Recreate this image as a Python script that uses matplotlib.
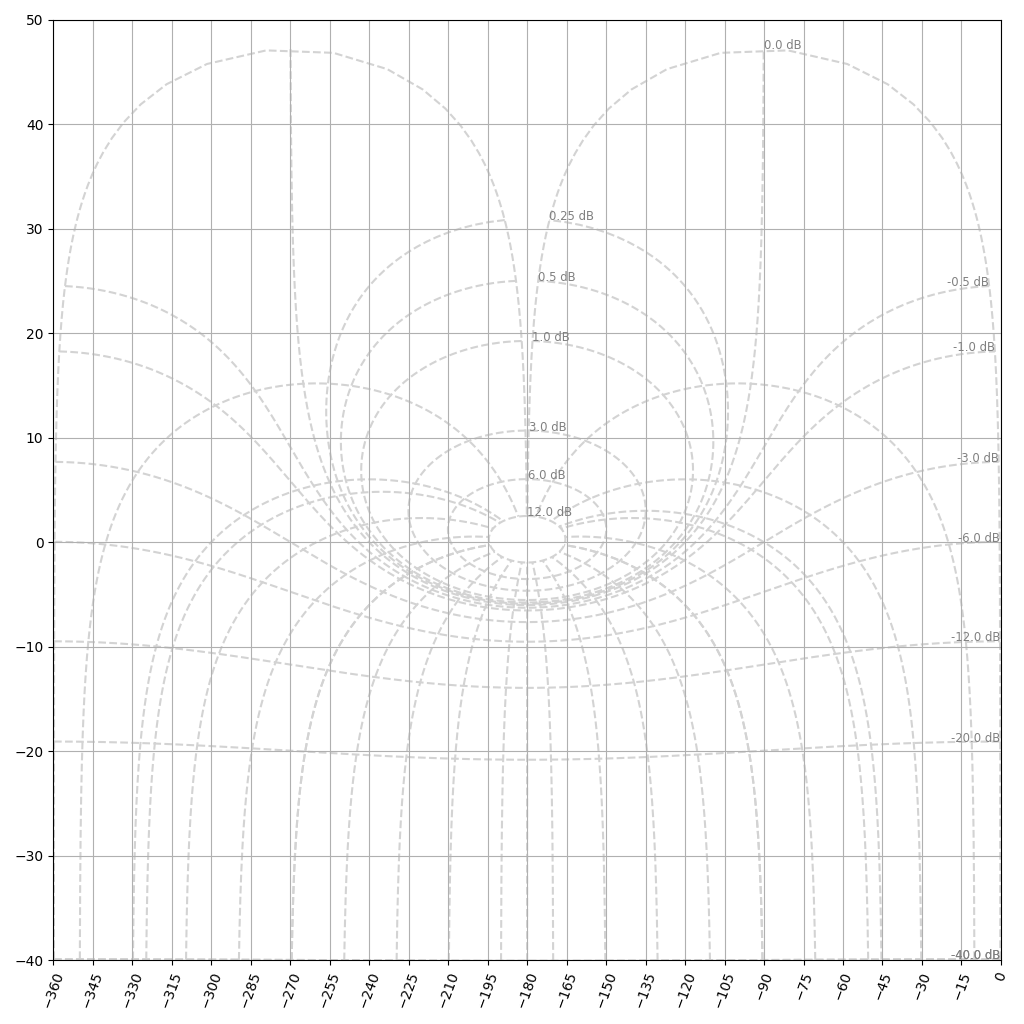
import numpy as np
import matplotlib
matplotlib.use("Agg")
import matplotlib.pyplot as plt

# closed-loop magnitudes (dB) of the M-contours
cl_mags = np.array([-40.0, -40.0, -20.0, -12.0, -6.0, -3.0, -1.0, -0.5,
                    0.0, 0.25, 0.5, 1.0, 3.0, 6.0, 12.0])
# closed-loop phases (deg) of the N-contours
key_cl_phases = np.array([-0.25, -45.0, -90.0, -180.0, -270.0, -325.0, -359.75])
other_cl_phases = np.array([-10.0, -30.0, -50.0, -70.0, -90.0, -110.0, -130.0,
                            -150.0, -170.0, -190.0, -210.0, -230.0, -250.0,
                            -270.0, -290.0, -310.0, -330.0, -350.0])
cl_phases = np.concatenate((key_cl_phases, other_cl_phases))

xtick_vals = np.arange(-360, 1, 15)


def closed_loop_contours(gcl_mags, gcl_phases):
    gcl = gcl_mags * np.exp(1.j * gcl_phases)
    return gcl / (1.0 - gcl)


def m_circles(mags, phase_min, phase_max):
    phases = np.radians(np.linspace(phase_min, phase_max, 2000))
    g_mags, g_phases = np.meshgrid(10.0 ** (mags / 20.0), phases)
    return closed_loop_contours(g_mags, g_phases)


def n_circles(phases, mag_min, mag_max):
    mags = np.linspace(10 ** (mag_min / 20.0), 10 ** (mag_max / 20.0), 2000)
    g_phases, g_mags = np.meshgrid(np.radians(phases), mags)
    return closed_loop_contours(g_mags, g_phases)


fig = plt.figure(figsize=(10.24, 10.24), dpi=100)
ax = fig.add_axes([0.052, 0.0625, 0.9255, 0.918])

m = m_circles(cl_mags, cl_phases.min(), cl_phases.max())
m_mag = 20 * np.log10(np.abs(m))
m_phase = np.mod(np.degrees(np.angle(m)), -360.0)

n = n_circles(cl_phases, cl_mags.min(), cl_mags.max())
n_mag = 20 * np.log10(np.abs(n))
n_phase = np.mod(np.degrees(np.angle(n)), -360.0)

ax.plot(m_phase, m_mag, color='lightgray', linestyle='dashed', zorder=0)
ax.plot(n_phase, n_mag, color='lightgray', linestyle='dashed', zorder=0)

for x, y, mm in zip(m_phase[-1], m_mag[-1], cl_mags):
    align = 'right' if mm < 0.0 else 'left'
    ax.text(x, y, str(mm) + ' dB', size='small', ha=align, color='gray')

ax.axis([-360, 0, -40, 50])
ax.set_xticks(xtick_vals)
ax.tick_params(axis='x', labelrotation=70)
ax.grid(True)

fig.savefig("out.png", dpi=100)
